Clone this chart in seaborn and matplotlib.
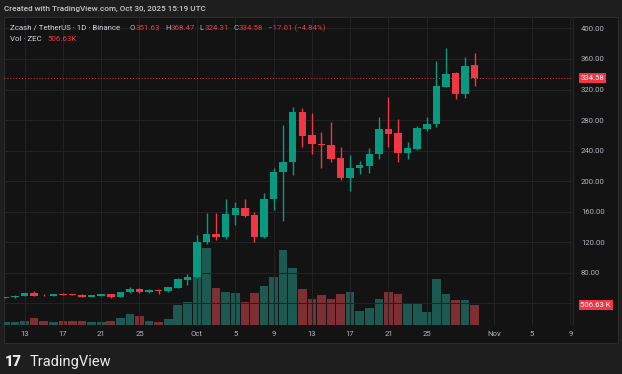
import matplotlib
matplotlib.use("Agg")
import matplotlib.pyplot as plt
import matplotlib.patches as mpatches
import pandas as pd
import seaborn as sns

# daily candles, Sep 11 .. Oct 30 2025
dates = pd.date_range("2025-09-11", "2025-10-30", freq="D")
opens = [47.0, 47.8, 50.0, 53.4, 50.9, 49.6, 52.2, 52.0, 51.0, 48.5,
         50.0, 52.0, 48.0, 54.2, 58.7, 54.7, 57.3, 55.5, 60.5, 70.5,
         74.0, 120.0, 130.7, 127.0, 156.0, 165.2, 155.6, 126.8, 176.2, 211.5,
         224.7, 290.2, 260.0, 248.7, 247.0, 230.3, 203.7, 217.2, 220.2, 235.0,
         268.0, 262.6, 237.3, 242.5, 268.8, 274.9, 323.8, 341.3, 314.2, 351.63]
highs = [48.6, 50.8, 54.0, 56.2, 52.0, 52.6, 52.8, 52.5, 51.6, 51.0,
         52.6, 52.6, 55.2, 61.0, 60.5, 58.0, 58.0, 61.8, 72.5, 78.0,
         129.4, 158.0, 158.0, 176.0, 172.0, 176.6, 160.0, 184.0, 217.6, 273.6,
         296.7, 295.5, 289.7, 264.0, 277.0, 245.0, 234.0, 226.4, 244.0, 283.6,
         310.0, 281.4, 251.7, 272.0, 283.6, 357.9, 374.0, 343.0, 363.0, 368.47]
lows = [46.6, 47.2, 49.6, 49.5, 49.0, 49.0, 50.5, 50.6, 48.0, 48.0,
        49.6, 46.5, 47.5, 53.5, 54.0, 53.8, 52.5, 55.0, 60.0, 64.0,
        72.5, 117.0, 123.0, 124.0, 143.0, 153.0, 120.6, 125.0, 162.0, 147.7,
        208.0, 245.0, 235.0, 217.6, 224.6, 202.0, 187.0, 209.8, 211.0, 229.5,
        245.0, 225.6, 229.0, 240.8, 265.7, 271.4, 323.0, 307.3, 309.5, 324.31]
closes = [48.0, 50.0, 53.2, 50.0, 50.2, 51.7, 51.0, 51.2, 48.5, 50.3,
          52.0, 48.0, 54.7, 58.7, 54.6, 57.0, 55.6, 61.0, 71.7, 74.0,
          120.6, 130.7, 127.0, 156.5, 165.2, 154.7, 126.4, 176.6, 212.4, 224.6,
          290.2, 259.2, 248.2, 247.0, 228.6, 203.7, 217.6, 221.6, 235.0, 268.3,
          261.8, 236.7, 243.4, 269.6, 275.0, 324.7, 340.4, 314.2, 350.9, 334.58]
volumes_k = [65, 65, 105, 165, 105, 60, 80, 80, 80, 65,
             68, 105, 160, 280, 225, 90, 68, 140, 525, 585,
             1630, 2010, 970, 850, 830, 578, 830, 1000, 1240, 1950,
             1485, 920, 672, 777, 672, 795, 848, 357, 446, 670,
             848, 803, 560, 560, 330, 1197, 803, 646, 646, 506.63]

price_ticks = [40, 80, 120, 160, 200, 240, 280, 320, 360, 400]
date_ticks = ["2025-09-13", "2025-09-17", "2025-09-21", "2025-09-25", "2025-10-01",
              "2025-10-05", "2025-10-09", "2025-10-13", "2025-10-17", "2025-10-21",
              "2025-10-25", "2025-11-01", "2025-11-05", "2025-11-09"]
date_labels = ["13", "17", "21", "25", "Oct", "5", "9", "13", "17", "21", "25", "Nov", "5", "9"]
ohlc_parts = [("O", "351.63"), ("H", "368.47"), ("L", "324.31"), ("C", "334.58")]

UP = "#089981"
DOWN = "#f23645"
UP_VOL = "#1c5a51"
DOWN_VOL = "#7d2f33"
PANEL = "#131313"
OUTER = "#1e1e1e"
GRID = "#222222"
TXT = "#b2b5be"

sns.set_style("dark", {"axes.facecolor": PANEL, "figure.facecolor": OUTER})
plt.rcParams["font.family"] = ["Roboto", "DejaVu Sans"]

W, H = 622, 374
def fx(x):
    return x / W
def fy(y):
    return 1 - y / H

df = pd.DataFrame({"date": dates, "open": opens, "high": highs, "low": lows,
                   "close": closes, "vol": volumes_k})
df["day"] = (df["date"] - dates[0]).dt.days
df["dir"] = ["up" if c >= o else "down" for o, c in zip(df["open"], df["close"])]

fig = plt.figure(figsize=(W / 100, H / 100), dpi=100)
fig.patch.set_facecolor(OUTER)
fig.patches.append(mpatches.Rectangle((fx(4), fy(343)), fx(614), (343 - 17) / H,
                                      transform=fig.transFigure, facecolor=PANEL,
                                      edgecolor="#2c2c2c", linewidth=0.8, zorder=-5))

ax = fig.add_axes([fx(4), fy(324.5), fx(569), (324.5 - 18) / H])
axv = ax.twinx()

# volume pane underneath the candles
sns.barplot(data=df, x="day", y="vol", hue="dir", palette={"up": UP_VOL, "down": DOWN_VOL},
            native_scale=True, dodge=False, width=0.9, saturation=1, errorbar=None,
            legend=False, linewidth=0, edgecolor="none", ax=axv)
axv.set_ylim(0, 8046)
axv.set_yticks([])
axv.set_ylabel("")
axv.set_xlabel("")
for s in axv.spines.values():
    s.set_visible(False)

ax.set_zorder(axv.get_zorder() + 1)
ax.patch.set_visible(False)

colors = [UP if d == "up" else DOWN for d in df["dir"]]
ax.vlines(df["day"], df["low"], df["high"], colors=colors, linewidth=1.0, zorder=3)
body_lo = df[["open", "close"]].min(axis=1)
body_h = (df["close"] - df["open"]).abs().clip(lower=0.8)
ax.bar(df["day"], body_h, bottom=body_lo, width=0.78, color=colors, linewidth=0, zorder=4)

last = closes[-1]
ax.axhline(last, color=DOWN, linestyle=(0, (1, 2)), linewidth=0.7, zorder=2)

ax.set_ylim(12.1, 413.7)
x0 = pd.Timestamp(dates[0])
tick_days = [(pd.Timestamp(d) - x0).days for d in date_ticks]
ax.set_xlim(-0.15, 59.27)
ax.set_xticks(tick_days)
ax.set_xticklabels(date_labels)
ax.set_yticks(price_ticks)
ax.set_yticklabels(["" if p == 40 else f"{p:.2f}" for p in price_ticks])
ax.yaxis.tick_right()
ax.tick_params(axis="both", length=0, colors=TXT, labelsize=5.6)
ax.tick_params(axis="y", pad=5.8)
ax.tick_params(axis="x", pad=4.5)
ax.grid(True, color=GRID, linewidth=0.8)
ax.set_xlabel("")
ax.set_ylabel("")
for name, s in ax.spines.items():
    s.set_visible(name == "right")
ax.spines["right"].set_color("#262626")
ax.spines["right"].set_linewidth(0.8)

# price / volume tags on the scale
lbl = dict(color="white", fontsize=5.6, va="center", ha="left",
           bbox=dict(boxstyle="square,pad=0.25", facecolor=DOWN, edgecolor="none"))
ax.text(1 + 7.5 / 569, last, "334.58", transform=ax.get_yaxis_transform(), **lbl)
ax.text(1 + 7.5 / 569, 0.065, "506.63 K", transform=ax.transAxes, **lbl)

# header texts
fig.text(fx(4), fy(9), "Created with TradingView.com, Oct 30, 2025 15:19 UTC",
         color="#c8c8c8", fontsize=5.9, fontweight="medium", va="center", ha="left")
fig.text(fx(10), fy(27.7), "Zcash / TetherUS · 1D · Binance", color="#d1d4dc",
         fontsize=5.7, va="center", ha="left")

renderer = fig.canvas.get_renderer()
segs = []
for k, v in ohlc_parts:
    segs += [(k, TXT, 0.5), (v, DOWN, 4.5)]
segs.append(("−17.01 (−4.84%)", DOWN, 0))
xpos = 130
for t, c, gap in segs:
    txt = fig.text(fx(xpos), fy(27.7), t, color=c, fontsize=5.7, va="center", ha="left")
    xpos += txt.get_window_extent(renderer).width + gap

fig.text(fx(10), fy(39.3), "Vol · ZEC", color="#d1d4dc", fontsize=5.7, va="center", ha="left")
fig.text(fx(47), fy(39.3), "506.63K", color=DOWN, fontsize=5.7, va="center", ha="left")

# footer logo
fig.text(fx(5), fy(362), "17", color="#ececec", fontsize=10.5, fontweight="heavy",
         va="center", ha="left")
fig.text(fx(30), fy(362), "TradingView", color="#ececec", fontsize=10.5,
         va="center", ha="left")

fig.savefig("out.png", dpi=100, facecolor=OUTER)
